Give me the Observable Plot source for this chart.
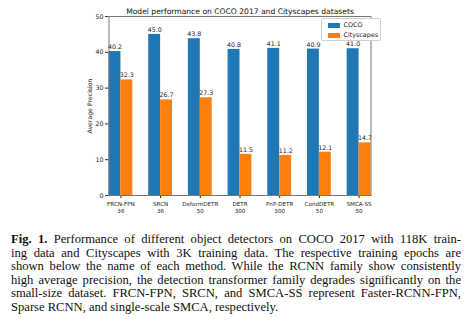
<!DOCTYPE html>
<html>
<head>
<meta charset="utf-8">
<script src="https://cdn.jsdelivr.net/npm/d3@7"></script>
<script src="https://cdn.jsdelivr.net/npm/@observablehq/plot@0.6"></script>
<style>
  html, body { margin: 0; padding: 0; background: #fff; }
  body { width: 474px; height: 325px; position: relative; overflow: hidden; }
  #chart { position: absolute; left: 0; top: 0; }
  #legend { position: absolute; left: 321px; top: 18px; width: 60px; height: 23px; border: 1px solid #d0d0d0; border-radius: 2px; background: #fff;
    font: 6.4px "DejaVu Sans", sans-serif; color: #222; box-sizing: border-box; }
  #legend .row { position: absolute; left: 6px; height: 8px; line-height: 8px; white-space: nowrap; }
  #legend .sw { display: inline-block; width: 12px; height: 4.5px; vertical-align: middle; margin-right: 3.5px; }
  #caption { position: absolute; left: 11px; top: 233px; width: 450px; font: 12.6px "Liberation Serif", "Times New Roman", serif; color: #111; line-height: 13.6px; }
  #caption .ln { text-align: justify; text-align-last: justify; white-space: nowrap; }
  #caption .ln.last { text-align-last: left; }
</style>
</head>
<body>
<div id="chart"></div>
<div id="legend"></div>
<div id="caption"></div>
<script>
const methods = ["FRCN-FPN", "SRCN", "DeformDETR", "DETR", "PnP-DETR", "CondDETR", "SMCA-SS"];
const epochs = ["36", "36", "50", "300", "300", "50", "50"];
const series = ["COCO", "Cityscapes"];
const cocoAP = [40.2, 45.0, 43.8, 40.8, 41.1, 40.9, 41.0];
const cityAP = [32.3, 26.7, 27.3, 11.5, 11.2, 12.1, 14.7];
const colors = ["#1f77b4", "#ff7f0e"];
const yTicks = [0, 10, 20, 30, 40, 50];
const title = "Model performance on COCO 2017 and Cityscapes datasets";
const yLabel = "Average Precision";
const captionLines = [
  ["Fig. 1.", " Performance of different object detectors on COCO 2017 with 118K train-"],
  ["", "ing data and Cityscapes with 3K training data. The respective training epochs are"],
  ["", "shown below the name of each method. While the RCNN family show consistently"],
  ["", "high average precision, the detection transformer family degrades significantly on the"],
  ["", "small-size dataset. FRCN-FPN, SRCN, and SMCA-SS represent Faster-RCNN-FPN,"],
  ["", "Sparse RCNN, and single-scale SMCA, respectively."]
];

const data = [];
methods.forEach((m, i) => {
  data.push({method: m, series: series[0], value: cocoAP[i]});
  data.push({method: m, series: series[1], value: cityAP[i]});
});
const epochOf = new Map(methods.map((m, i) => [m, epochs[i]]));

const font = '"DejaVu Sans", sans-serif';
const plot = Plot.plot({
  width: 474,
  height: 228,
  marginLeft: 96,
  marginRight: 91,
  marginTop: 16,
  marginBottom: 33,
  style: {fontFamily: font, fontSize: "6.3px", color: "#222", background: "#fff"},
  fx: {domain: methods, paddingInner: 0.4, paddingOuter: 0.315, round: false, label: null},
  x: {domain: series, padding: 0, round: false, axis: null},
  y: {domain: [0, 50], label: null},
  color: {domain: series, range: colors},
  marks: [
    Plot.barY(data, {fx: "method", x: "series", y: "value", fill: "series", inset: 0}),
    Plot.text(data, {fx: "method", x: "series", y: "value", text: d => d.value.toFixed(1), dy: -4.5, fill: "#222", fontSize: 6.3}),
    Plot.axisY({ticks: yTicks, tickSize: 3.5, tickPadding: 2, stroke: "#333", label: null, fontSize: 6.3}),
    Plot.axisFx({anchor: "bottom", tickSize: 3, tickPadding: 2, label: null, fontSize: 5.6,
      tickFormat: m => m + "\n" + epochOf.get(m), lineHeight: 1.3}),
    Plot.frame({facet: "super", stroke: "#777", strokeWidth: 1}),
    Plot.text([yLabel], {facet: "super", frameAnchor: "left", rotate: -90, dx: -19, fontSize: 6.2, fill: "#222", textAnchor: "middle"}),
    Plot.text([title], {facet: "super", frameAnchor: "top", dy: -8, fontSize: 7.6, fill: "#111"})
  ]
});
document.getElementById("chart").appendChild(plot);

const legend = document.getElementById("legend");
series.forEach((s, i) => {
  const row = document.createElement("div");
  row.className = "row";
  row.style.top = (2 + i * 10) + "px";
  row.innerHTML = `<span class="sw" style="background:${colors[i]}"></span>${s}`;
  legend.appendChild(row);
});

const cap = document.getElementById("caption");
captionLines.forEach(([b, t], i) => {
  const d = document.createElement("div");
  d.className = "ln" + (i === captionLines.length - 1 ? " last" : "");
  if (b) { const s = document.createElement("b"); s.textContent = b; d.appendChild(s); }
  d.appendChild(document.createTextNode(t));
  cap.appendChild(d);
});
</script>
</body>
</html>
